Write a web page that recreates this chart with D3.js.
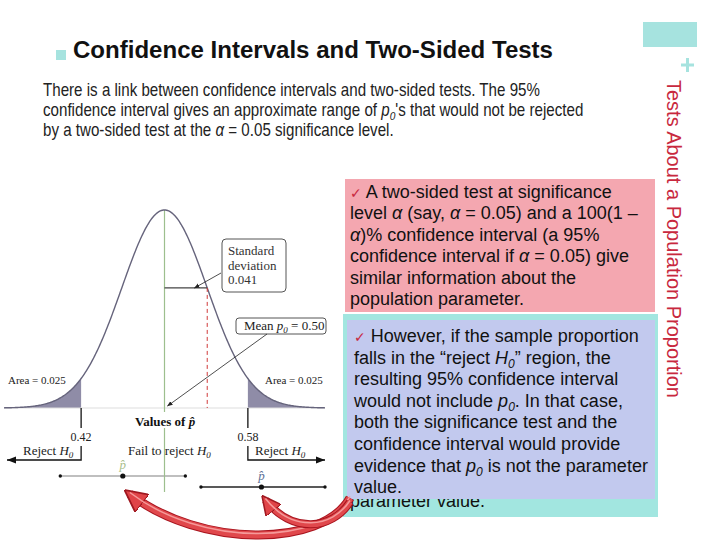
<!DOCTYPE html>
<html lang="en">
<head>
<meta charset="UTF-8">
<title>Confidence Intervals and Two-Sided Tests</title>
<script src="https://d3js.org/d3.v7.min.js"></script>
<style>
  body { margin: 0; background: #fff; }
  svg { display: block; }
  .sans { font-family: "Liberation Sans", Arial, sans-serif; }
  .serif { font-family: "Liberation Serif", "Times New Roman", serif; }
</style>
</head>
<body>
<svg id="slide" width="720" height="540"></svg>
<script>
// --- data ---
const meanP0 = 0.50;
const sdP0 = 0.041;
const critValues = [0.42, 0.58];
const critLabels = ["0.42", "0.58"];
const tailAreas = ["Area = 0.025", "Area = 0.025"];
const ciLeft = [0.40, 0.46, 0.52];     // low, p-hat, high (inside fail-to-reject region)
const ciRight = [0.535, 0.593, 0.654]; // low, p-hat, high (inside reject region)

const introLines = [
  [["There is a link between confidence intervals and two-sided tests. The 95%"]],
  [["confidence interval gives an approximate range of "], ["p", "i"], ["0", "isub"], ["'s that would not be rejected", "up"]],
  [["by a two-sided test at the "], ["α", "i"], [" = 0.05 significance level."]]
];
const pinkLines = [
  [["✓", "chk"], [" A two-sided test at significance"]],
  [["level "], ["α", "i"], [" (say, "], ["α", "i"], [" = 0.05) and a 100(1 –"]],
  [["α", "i"], [")% confidence interval (a 95%"]],
  [["confidence interval if  "], ["α", "i"], [" = 0.05) give"]],
  [["similar information about the"]],
  [["population parameter."]]
];
const blueLines = [
  [["✓", "chk"], [" However, if the sample proportion"]],
  [["falls in the “reject "], ["H", "i"], ["0", "isub"], ["” region, the", "up"]],
  [["resulting 95% confidence interval"]],
  [["would not include "], ["p", "i"], ["0", "isub"], [". In that case,", "up"]],
  [["both the significance test and the"]],
  [["confidence interval would provide"]],
  [["evidence that "], ["p", "i"], ["0", "isub"], [" is not the parameter", "up"]],
  [["value."]]
];

const svg = d3.select("#slide");

function writeLines(g, lines, x0, y0, lh, size, fill) {
  lines.forEach((parts, i) => {
    const t = g.append("text").attr("class", "sans").attr("x", x0).attr("y", y0 + i * lh)
      .attr("font-size", size).attr("fill", fill);
    parts.forEach(([s, kind]) => {
      const sp = t.append("tspan").text(s);
      if (kind === "chk") sp.attr("fill", "#c8283e").attr("font-size", 14).attr("font-family", "DejaVu Sans");
      if (kind === "i") sp.attr("font-style", "italic");
      if (kind === "isub") sp.attr("font-style", "italic").attr("font-size", size * 0.67).attr("dy", 4);
      if (kind === "up") sp.attr("dy", -4);
    });
  });
}

// --- slide decorations ---
svg.append("rect").attr("x", 643).attr("y", 22).attr("width", 54).attr("height", 25).attr("fill", "#a6e3df");
svg.append("path").attr("d", "M681,65 H694 M687.5,58 V72").attr("stroke", "#a6e3df").attr("stroke-width", 3);
svg.append("text").attr("class", "sans")
  .attr("transform", "translate(667,80) rotate(90)")
  .attr("font-size", 20).attr("fill", "#c8283e")
  .attr("textLength", 318).attr("lengthAdjust", "spacingAndGlyphs")
  .text("Tests About a Population Proportion");

svg.append("rect").attr("x", 56).attr("y", 50).attr("width", 10).attr("height", 10).attr("fill", "#a6e3df");
svg.append("text").attr("class", "sans").attr("x", 73).attr("y", 58)
  .attr("font-size", 23).attr("font-weight", "bold").attr("fill", "#111")
  .attr("textLength", 480).attr("lengthAdjust", "spacingAndGlyphs")
  .text("Confidence Intervals and Two-Sided Tests");

// intro paragraph: narrow type, squeezed horizontally
writeLines(svg.append("g").attr("transform", "translate(43,0) scale(0.865,1)"), introLines, 0, 96, 20, 17.5, "#222");

// --- text boxes ---
svg.append("rect").attr("x", 345).attr("y", 179).attr("width", 310).attr("height", 133).attr("fill", "#f4a7b0");
writeLines(svg.append("g"), pinkLines, 350, 198, 21.4, 18, "#111");

svg.append("rect").attr("x", 343).attr("y", 314).attr("width", 315).attr("height", 203).attr("fill", "#a2e6e0");
svg.append("text").attr("class", "sans").attr("x", 350).attr("y", 507).attr("font-size", 18).attr("fill", "#111")
  .text("parameter value.");
svg.append("rect").attr("x", 347).attr("y", 320).attr("width", 308).attr("height", 179).attr("fill", "#c2c9ee");
writeLines(svg.append("g"), blueLines, 354, 342, 21.6, 18, "#111");

// --- normal curve figure ---
const x = d3.scaleLinear().domain([0.346, 0.654]).range([4, 325]);
const pdf = p => Math.exp(-0.5 * ((p - meanP0) / sdP0) ** 2);
const y = d3.scaleLinear().domain([0, 1]).range([408, 210]);
const grid = d3.range(0.346, 0.6545, 0.001);
const line = d3.line().x(p => x(p)).y(p => y(pdf(p)));
const area = d3.area().x(p => x(p)).y0(y(0)).y1(p => y(pdf(p)));

const fig = svg.append("g");
fig.append("path").datum(grid.filter(p => p <= critValues[0])).attr("d", area).attr("fill", "#8f8ca7");
fig.append("path").datum(grid.filter(p => p >= critValues[1])).attr("d", area).attr("fill", "#8f8ca7");
fig.append("line").attr("x1", x(0.346)).attr("x2", x(0.654)).attr("y1", y(0)).attr("y2", y(0))
  .attr("stroke", "#ddd").attr("stroke-width", 1);

// green centre line
fig.append("line").attr("x1", x(meanP0)).attr("x2", x(meanP0)).attr("y1", y(1)).attr("y2", 492)
  .attr("stroke", "#9dbf8e").attr("stroke-width", 1.2);

fig.append("path").datum(grid).attr("d", line).attr("fill", "none").attr("stroke", "#66647c").attr("stroke-width", 1.4);

// standard deviation marker
const sdX = meanP0 + sdP0;
fig.append("line").attr("x1", x(meanP0)).attr("x2", x(sdX)).attr("y1", y(pdf(sdX))).attr("y2", y(pdf(sdX)))
  .attr("stroke", "#444").attr("stroke-width", 1.2);
fig.append("line").attr("x1", x(sdX)).attr("x2", x(sdX)).attr("y1", y(pdf(sdX))).attr("y2", y(0))
  .attr("stroke", "#d03a3a").attr("stroke-width", 1).attr("stroke-dasharray", "4,3");

// critical value brackets
critValues.forEach((c, i) => {
  const cx = x(c);
  fig.append("line").attr("x1", cx).attr("x2", cx).attr("y1", y(0)).attr("y2", 428).attr("stroke", "#111").attr("stroke-width", 1.3);
  fig.append("path").attr("d", `M${cx},446 V460 H${i === 0 ? 7 : 325}`).attr("fill", "none").attr("stroke", "#111").attr("stroke-width", 1.3);
  const ax = i === 0 ? 7 : 325, s = i === 0 ? 1 : -1;
  fig.append("path").attr("d", `M${ax},460 l${s * 9},-3.5 l0,7 z`).attr("fill", "#111");
  fig.append("text").attr("class", "serif").attr("x", cx).attr("y", 441).attr("text-anchor", "middle")
    .attr("font-size", 12).attr("fill", "#222").text(critLabels[i]);
  fig.append("text").attr("class", "serif").attr("x", i === 0 ? 8 : 265).attr("y", 384)
    .attr("font-size", 11).attr("fill", "#222").text(tailAreas[i]);
  const rj = fig.append("text").attr("class", "serif").attr("x", i === 0 ? 23 : 255).attr("y", 455)
    .attr("font-size", 13).attr("fill", "#222");
  rj.append("tspan").text("Reject ");
  rj.append("tspan").attr("font-style", "italic").text("H");
  rj.append("tspan").attr("font-style", "italic").attr("font-size", 9).attr("dy", 3).text("0");
});

const fr = fig.append("text").attr("class", "serif").attr("x", 128).attr("y", 455).attr("font-size", 13).attr("fill", "#222");
fr.append("tspan").text("Fail to reject ");
fr.append("tspan").attr("font-style", "italic").text("H");
fr.append("tspan").attr("font-style", "italic").attr("font-size", 9).attr("dy", 3).text("0");

fig.append("rect").attr("x", 136).attr("y", 412).attr("width", 58).attr("height", 16).attr("fill", "#fff");
const vt = fig.append("text").attr("class", "serif").attr("x", 135).attr("y", 426).attr("font-size", 13).attr("font-weight", "bold").attr("fill", "#111");
vt.append("tspan").text("Values of ");
vt.append("tspan").attr("font-style", "italic").text("p̂");

// callout boxes
fig.append("rect").attr("x", 222).attr("y", 239).attr("width", 64).attr("height", 53).attr("rx", 4)
  .attr("fill", "#fff").attr("stroke", "#555").attr("stroke-width", 1);
["Standard", "deviation", "0.041"].forEach((s, i) => {
  fig.append("text").attr("class", "serif").attr("x", 228).attr("y", 255 + i * 14.5)
    .attr("font-size", 13).attr("fill", "#333").text(s);
});
fig.append("rect").attr("x", 236).attr("y", 318).attr("width", 90).attr("height", 16).attr("rx", 3)
  .attr("fill", "#fff").attr("stroke", "#555").attr("stroke-width", 1);
const mt = fig.append("text").attr("class", "serif").attr("x", 244).attr("y", 330).attr("font-size", 13).attr("fill", "#222");
mt.append("tspan").text("Mean ");
mt.append("tspan").attr("font-style", "italic").text("p");
mt.append("tspan").attr("font-style", "italic").attr("font-size", 9).attr("dy", 3).text("0");
mt.append("tspan").attr("dy", -3).text(" = 0.50");

const defs = svg.append("defs");
defs.append("marker").attr("id", "ah").attr("viewBox", "0 0 10 10").attr("refX", 9).attr("refY", 5)
  .attr("markerWidth", 7).attr("markerHeight", 7).attr("orient", "auto")
  .append("path").attr("d", "M0,1 L10,5 L0,9 z").attr("fill", "#222");
fig.append("line").attr("x1", 221).attr("y1", 273).attr("x2", x(meanP0) + 30).attr("y2", y(pdf(sdX)))
  .attr("stroke", "#222").attr("stroke-width", 0.8).attr("marker-end", "url(#ah)");
fig.append("line").attr("x1", 267).attr("y1", 334).attr("x2", x(meanP0) + 3).attr("y2", 406)
  .attr("stroke", "#222").attr("stroke-width", 0.8).attr("marker-end", "url(#ah)");

// sample confidence intervals
function drawCI(vals, yy, col, hatCol) {
  const g = fig.append("g");
  g.append("line").attr("x1", x(vals[0])).attr("x2", x(vals[2])).attr("y1", yy).attr("y2", yy)
    .attr("stroke", col).attr("stroke-width", 1.3);
  g.selectAll("circle").data(vals).join("circle")
    .attr("cx", d => x(d)).attr("cy", yy).attr("r", (d, i) => i === 1 ? 2.6 : 1.7).attr("fill", "#111");
  g.append("text").attr("class", "serif").attr("x", x(vals[1])).attr("y", yy - 7).attr("text-anchor", "middle")
    .attr("font-size", 13).attr("font-style", "italic").attr("fill", hatCol).text("p̂");
}
drawCI(ciLeft, 476, "#aaa", "#a8c08c");
drawCI(ciRight, 487, "#222", "#5c6f95");
fig.append("line").attr("x1", x(meanP0)).attr("x2", x(meanP0)).attr("y1", 470).attr("y2", 482).attr("stroke", "#9dbf8e");

// red curved arrows from the text box to the two p-hat values
defs.append("marker").attr("id", "rh").attr("viewBox", "0 0 10 10").attr("refX", 7).attr("refY", 5)
  .attr("markerWidth", 3.2).attr("markerHeight", 3.2).attr("orient", "auto")
  .append("path").attr("d", "M0,0 L10,5 L0,10 z").attr("fill", "#e04448").attr("stroke", "#a01820").attr("stroke-width", 0.8);
const arrows = [
  { d: `M350,498 C 322,548 200,548 ${x(ciLeft[1]) + 7},494`, w: 7 },
  { d: `M350,502 C 332,530 292,534 ${x(ciRight[1]) + 4},500`, w: 6 }
];
arrows.forEach(a => {
  svg.append("path").attr("d", a.d).attr("fill", "none").attr("stroke", "#a8141e").attr("stroke-width", a.w + 2);
  svg.append("path").attr("d", a.d).attr("fill", "none").attr("stroke", "#e0484c").attr("stroke-width", a.w)
    .attr("marker-end", "url(#rh)");
  svg.append("path").attr("d", a.d).attr("fill", "none").attr("stroke", "#f59a9a").attr("stroke-width", 1.5)
    .attr("transform", "translate(0,-1.5)");
});
</script>
</body>
</html>
